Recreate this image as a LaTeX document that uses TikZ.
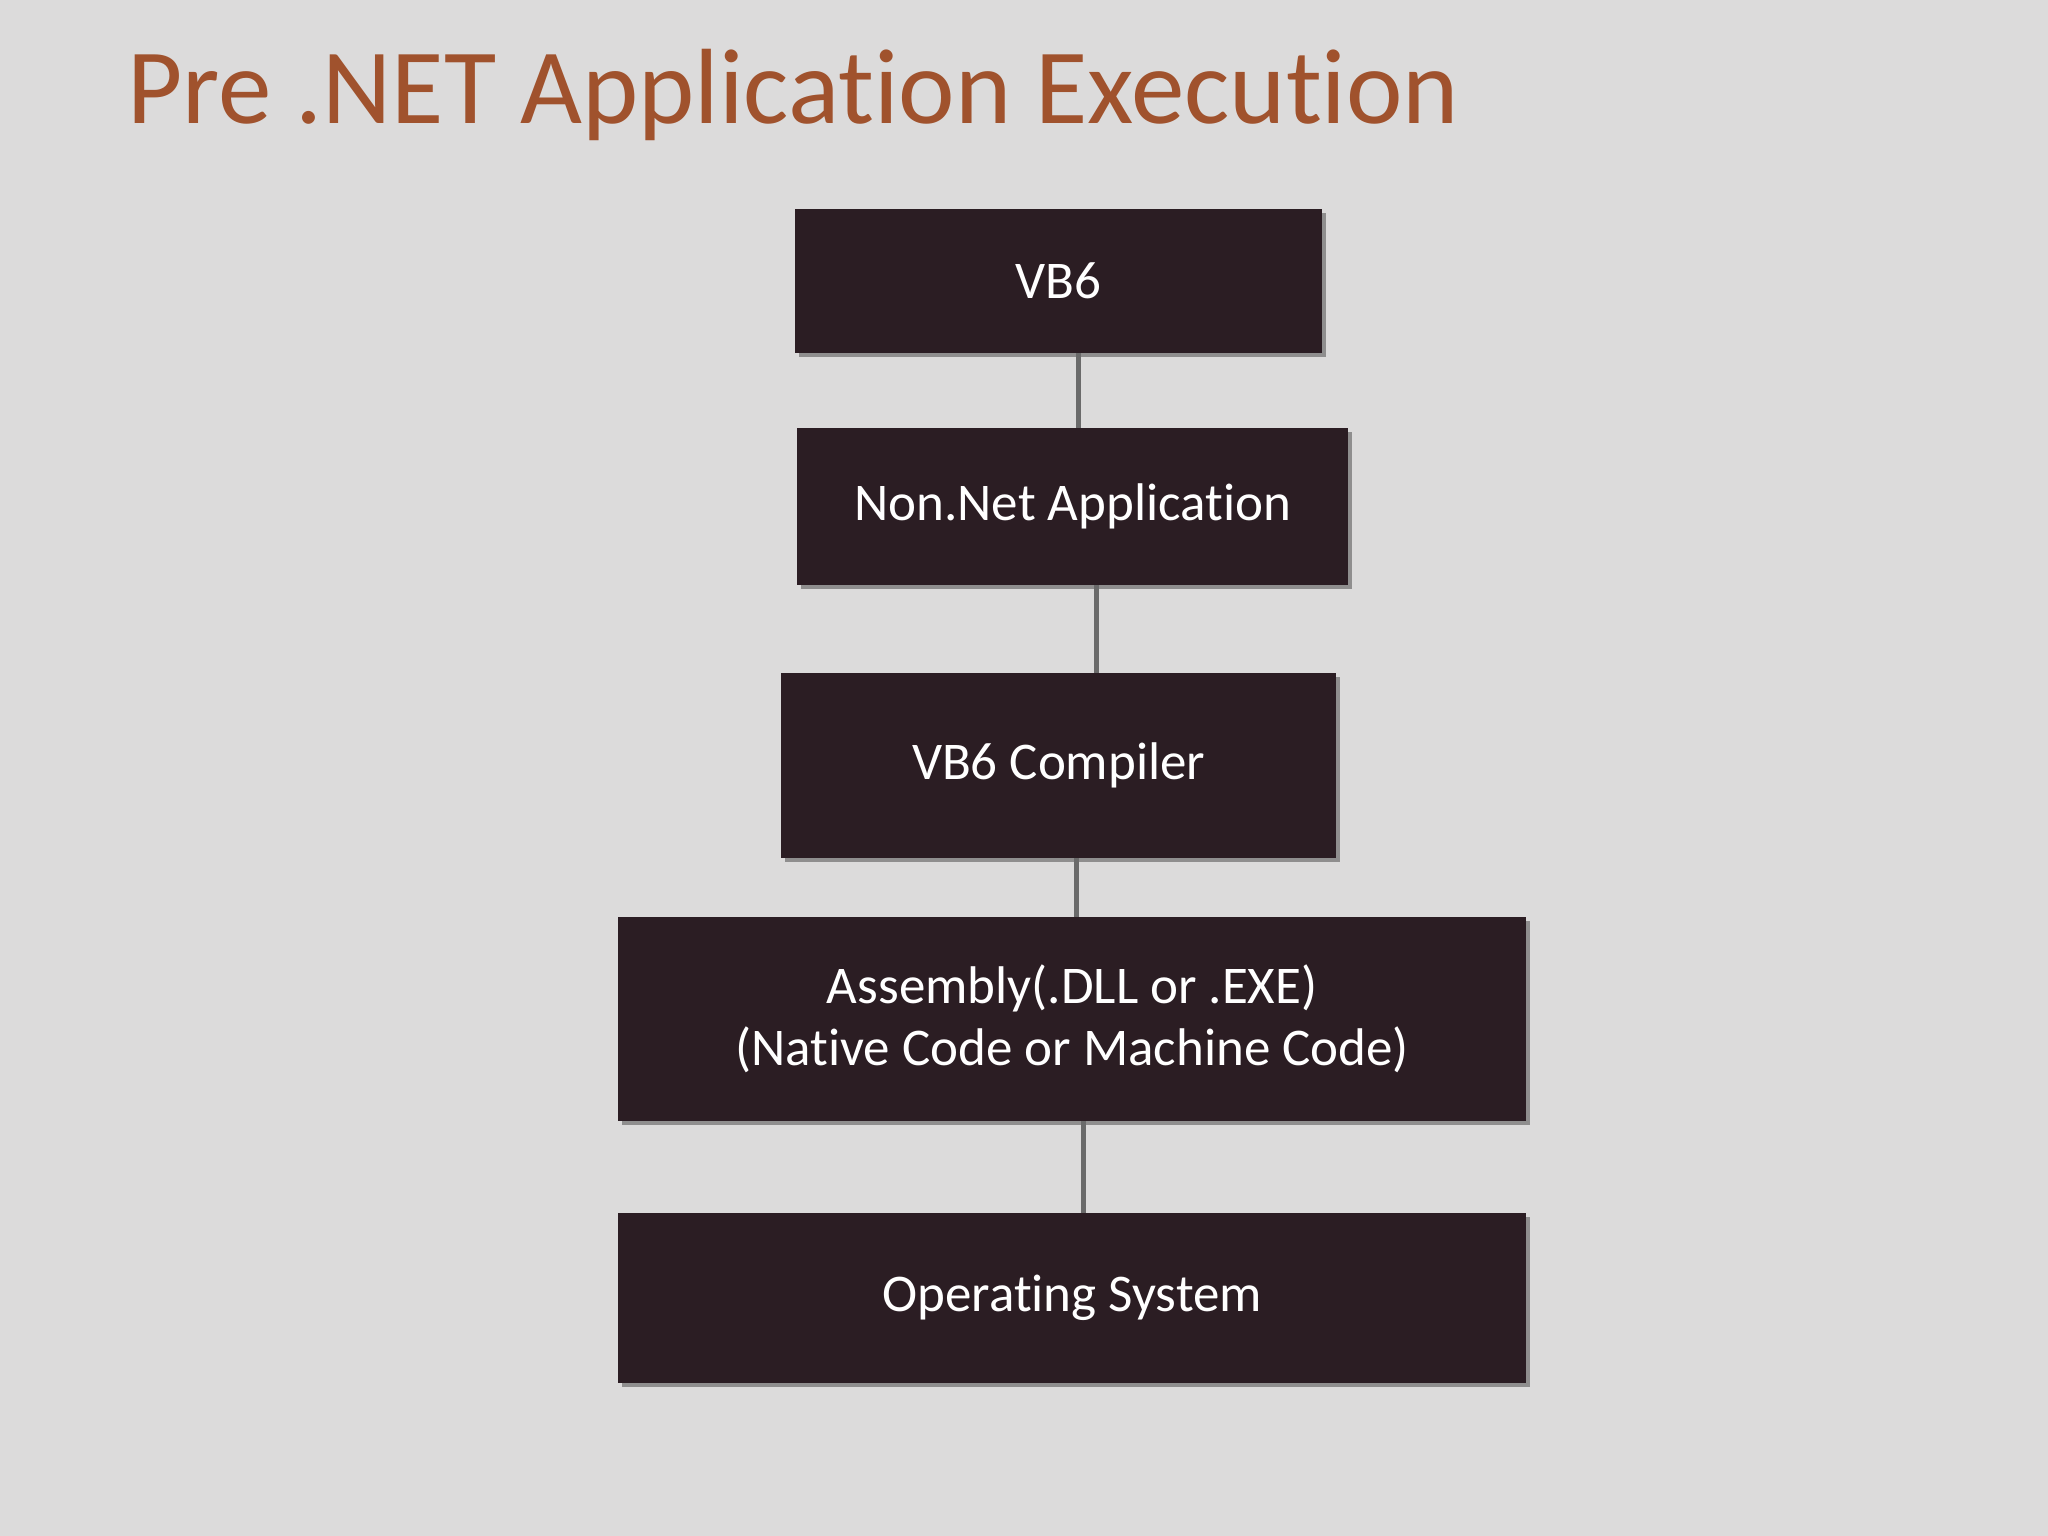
\documentclass[tikz,border=0pt]{standalone}
\usepackage{fontspec}
\setmainfont[Ligatures=NoCommon]{Carlito}
\usetikzlibrary{shadows}
\definecolor{bg}{HTML}{DCDBDB}
\definecolor{boxc}{HTML}{2B1D23}
\definecolor{titlec}{HTML}{A0522D}
\definecolor{linec}{HTML}{6A6A6A}
\tikzset{
  blk/.style={draw=none, fill=boxc, text=white, font=\fontsize{53}{62}\selectfont, align=center, anchor=north west, inner sep=0pt,
    drop shadow={shadow xshift=4pt, shadow yshift=-4pt, fill=black, opacity=0.35}},
  conn/.style={draw=linec, line width=5pt}
}
\begin{document}
\begin{tikzpicture}[x=1pt,y=-1pt]
\fill[bg] (0,0) rectangle (2048,1536);
\node[anchor=base west, text=titlec, font=\fontsize{107}{120}\selectfont, inner sep=0pt] (title) at (127,124) {Pre .NET Application Execution};
\node[blk, minimum width=527pt, minimum height=144pt] (vb6) at (795,209) {VB6};
\node[blk, minimum width=551pt, minimum height=157pt] (non) at (797,428) {Non.Net Application};
\node[blk, minimum width=555pt, minimum height=185pt] (comp) at (781,673) {VB6 Compiler};
\node[blk, minimum width=908pt, minimum height=204pt] (asm) at (618,917) {Assembly(.DLL or .EXE)\\(Native Code or Machine Code)};
\node[blk, minimum width=908pt, minimum height=170pt] (os) at (618,1213) {Operating System};
\draw[conn] (vb6.south -| 1078,0) -- (non.north -| 1078,0);
\draw[conn] (non.south -| 1096,0) -- (comp.north -| 1096,0);
\draw[conn] (comp.south -| 1076,0) -- (asm.north -| 1076,0);
\draw[conn] (asm.south -| 1083,0) -- (os.north -| 1083,0);
\end{tikzpicture}
\end{document}
